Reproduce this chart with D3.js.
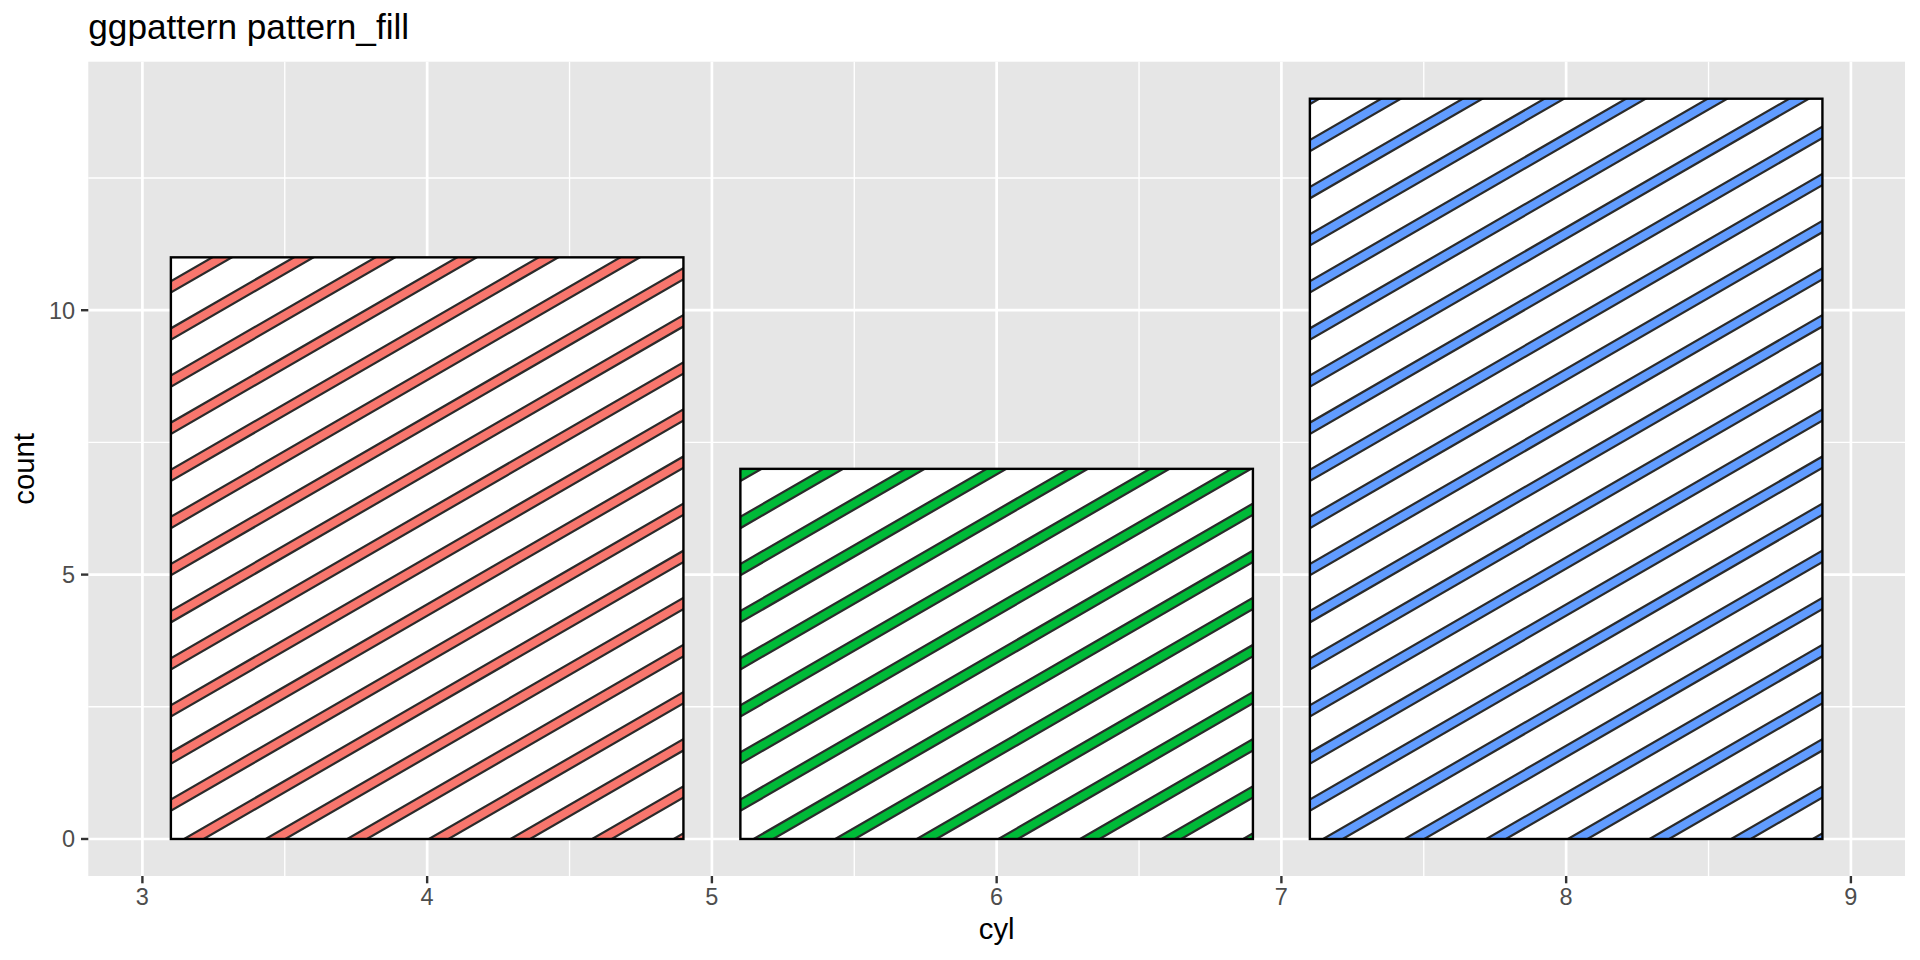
<!DOCTYPE html>
<html>
<head>
<meta charset="utf-8">
<script src="https://cdn.jsdelivr.net/npm/d3@7"></script>
<style>
  body { margin: 0; background: #fff; }
  text { font-family: "Liberation Sans", Arial, Helvetica, sans-serif; }
</style>
</head>
<body>
<div id="chart"></div>
<script>
// data (mtcars, count by cyl)
var cyls = [4, 6, 8],
    counts = [11, 7, 14],
    fills = ["#F8766D", "#00BA38", "#619CFF"],
    xTicks = [3, 4, 5, 6, 7, 8, 9],
    xMinor = [3.5, 4.5, 5.5, 6.5, 7.5, 8.5],
    yTicks = [0, 5, 10],
    yMinor = [2.5, 7.5, 12.5];

var W = 1920, H = 960,
    margin = { top: 61.7, right: 15, bottom: 84, left: 88.3 },
    width = W - margin.left - margin.right,
    height = H - margin.top - margin.bottom,
    barWidth = 1.8,
    stripeAngle = 30 * Math.PI / 180,
    stripeStep = 81.6,     // horizontal distance between stripes
    stripeHalf = 4.9,      // half thickness, perpendicular
    stripeStart = 23;      // first stripe from bar's bottom-left corner

var svg = d3.select("#chart").append("svg")
    .attr("width", W)
    .attr("height", H);

var g = svg.append("g")
    .attr("transform", "translate(" + margin.left + "," + margin.top + ")");

var x = d3.scaleLinear()
    .domain([3.1 - 0.29, 8.9 + 0.29])
    .range([0, width]);

var y = d3.scaleLinear()
    .domain([-0.7, 14.7])
    .range([height, 0]);

// panel
g.append("rect")
    .attr("width", width)
    .attr("height", height)
    .attr("fill", "#E6E6E6");

g.selectAll(".xminor").data(xMinor).enter().append("line")
    .attr("x1", function(d) { return x(d); })
    .attr("x2", function(d) { return x(d); })
    .attr("y1", 0).attr("y2", height)
    .attr("stroke", "#fff").attr("stroke-width", 1.35);

g.selectAll(".yminor").data(yMinor).enter().append("line")
    .attr("y1", function(d) { return y(d); })
    .attr("y2", function(d) { return y(d); })
    .attr("x1", 0).attr("x2", width)
    .attr("stroke", "#fff").attr("stroke-width", 1.35);

g.selectAll(".xmajor").data(xTicks).enter().append("line")
    .attr("x1", function(d) { return x(d); })
    .attr("x2", function(d) { return x(d); })
    .attr("y1", 0).attr("y2", height)
    .attr("stroke", "#fff").attr("stroke-width", 2.7);

g.selectAll(".ymajor").data(yTicks).enter().append("line")
    .attr("y1", function(d) { return y(d); })
    .attr("y2", function(d) { return y(d); })
    .attr("x1", 0).attr("x2", width)
    .attr("stroke", "#fff").attr("stroke-width", 2.7);

// bars with striped pattern
var defs = svg.append("defs");

var bars = cyls.map(function(c, i) {
    return { cyl: c, count: counts[i], fill: fills[i], i: i };
});

bars.forEach(function(b) {
    var x0 = x(b.cyl - barWidth / 2),
        x1 = x(b.cyl + barWidth / 2),
        y0 = y(0),
        y1 = y(b.count);

    defs.append("clipPath")
        .attr("id", "clip" + b.i)
        .append("rect")
        .attr("x", x0 + margin.left).attr("y", y1 + margin.top)
        .attr("width", x1 - x0).attr("height", y0 - y1);

    var bg = g.append("g");

    bg.append("rect")
        .attr("x", x0).attr("y", y1)
        .attr("width", x1 - x0).attr("height", y0 - y1)
        .attr("fill", "#fff");

    var dx = Math.cos(stripeAngle), dy = -Math.sin(stripeAngle),
        nx = Math.sin(stripeAngle), ny = Math.cos(stripeAngle),
        L = 3000,
        shift = (y0 - y1) / Math.tan(stripeAngle),
        kMin = Math.floor(-shift / stripeStep) - 2,
        kMax = Math.ceil((x1 - x0) / stripeStep) + 2,
        ks = d3.range(kMin, kMax + 1);

    bg.append("g")
        .attr("clip-path", "url(#clip" + b.i + ")")
        .attr("transform", "translate(" + (-margin.left) + "," + (-margin.top) + ")")
        .selectAll("polygon").data(ks).enter().append("polygon")
        .attr("points", function(k) {
            var px = x0 + stripeStart + k * stripeStep + margin.left,
                py = y0 + margin.top;
            return [
                [px - L * dx - stripeHalf * nx, py - L * dy - stripeHalf * ny],
                [px + L * dx - stripeHalf * nx, py + L * dy - stripeHalf * ny],
                [px + L * dx + stripeHalf * nx, py + L * dy + stripeHalf * ny],
                [px - L * dx + stripeHalf * nx, py - L * dy + stripeHalf * ny]
            ].map(function(p) { return p.join(","); }).join(" ");
        })
        .attr("fill", b.fill)
        .attr("stroke", "#2B2B2B")
        .attr("stroke-width", 2.2);

    bg.append("rect")
        .attr("x", x0).attr("y", y1)
        .attr("width", x1 - x0).attr("height", y0 - y1)
        .attr("fill", "none")
        .attr("stroke", "#000")
        .attr("stroke-width", 2.4);
});

// axes
g.selectAll(".xtick").data(xTicks).enter().append("line")
    .attr("x1", function(d) { return x(d); })
    .attr("x2", function(d) { return x(d); })
    .attr("y1", height).attr("y2", height + 7.3)
    .attr("stroke", "#333333").attr("stroke-width", 2.4);

g.selectAll(".xlabel").data(xTicks).enter().append("text")
    .attr("x", function(d) { return x(d); })
    .attr("y", height + 29.5)
    .attr("text-anchor", "middle")
    .style("font-size", "23.5px")
    .attr("fill", "#4D4D4D")
    .text(function(d) { return d; });

g.selectAll(".ytick").data(yTicks).enter().append("line")
    .attr("y1", function(d) { return y(d); })
    .attr("y2", function(d) { return y(d); })
    .attr("x1", -7.3).attr("x2", 0)
    .attr("stroke", "#333333").attr("stroke-width", 2.4);

g.selectAll(".ylabel").data(yTicks).enter().append("text")
    .attr("x", -13.2)
    .attr("y", function(d) { return y(d); })
    .attr("dy", "0.36em")
    .attr("text-anchor", "end")
    .style("font-size", "23.5px")
    .attr("fill", "#4D4D4D")
    .text(function(d) { return d; });

svg.append("text")
    .attr("x", margin.left + width / 2)
    .attr("y", 939.3)
    .attr("text-anchor", "middle")
    .style("font-size", "29.3px")
    .attr("fill", "#000")
    .text("cyl");

svg.append("text")
    .attr("transform", "translate(34.3," + (margin.top + height / 2) + ") rotate(-90)")
    .attr("text-anchor", "middle")
    .style("font-size", "29.3px")
    .attr("fill", "#000")
    .text("count");

svg.append("text")
    .attr("x", margin.left)
    .attr("y", 39.3)
    .style("font-size", "35.2px")
    .attr("fill", "#000")
    .text("ggpattern pattern_fill");
</script>
</body>
</html>
